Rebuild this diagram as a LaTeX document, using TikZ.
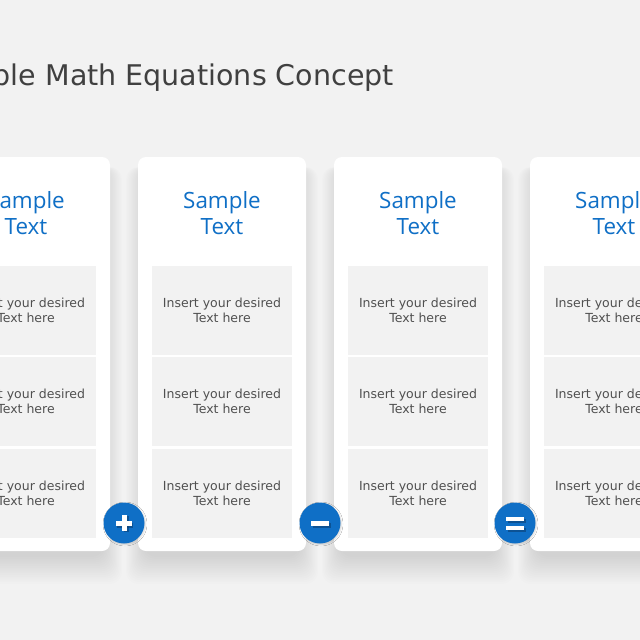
\documentclass[tikz,border=0pt]{standalone}
\usepackage{fontspec}
\setmainfont{DejaVu Sans}
\newfontfamily\headfont{Open Sans}
\usetikzlibrary{shadows.blur}
\definecolor{bg}{HTML}{F2F2F2}
\definecolor{blu}{HTML}{0F6FC6}
\definecolor{blushadow}{HTML}{0A3F73}
\definecolor{txt}{HTML}{505050}
\definecolor{ttl}{HTML}{404040}
\tikzset{
  card/.style={fill=white, rounded corners=8pt, minimum width=168pt, minimum height=394pt, inner sep=0pt},
  cardshadow/.style={fill=black, opacity=0.009, rounded corners=12pt},
  cell/.style={fill=bg, minimum width=140pt, minimum height=89pt, inner sep=0pt, align=center,
    font=\fontsize{12.5}{15}\selectfont, text=txt},
  head/.style={align=center, font=\headfont\fontsize{22.4}{26}\selectfont, text=blu},
  button/.style={circle, fill=blu, minimum size=41pt, inner sep=0pt,
    blur shadow={shadow xshift=1pt, shadow yshift=-1pt, shadow blur radius=1.5pt, shadow opacity=15}},
  bar/.style={line width=5pt, white},
  barshadow/.style={line width=5pt, blushadow, opacity=0.6},
}
\begin{document}
\begin{tikzpicture}[x=1pt,y=1pt]
\useasboundingbox (0,0) rectangle (640,-640);
\fill[bg] (0,0) rectangle (640,-640);
\node[anchor=base east, inner sep=0pt, font=\fontsize{28.5}{32}\selectfont, text=ttl] (title) at (394,-85) {Simple Math Equations Concept};
\foreach \x in {26,222,418,614}{
  \foreach \k in {0,...,15}{
    \fill[cardshadow] ({\x-78-1.2*\k},-167) rectangle ({\x+78+1.2*\k},{-557-1.8*\k});
  }
}
\foreach \i/\x in {1/26,2/222,3/418,4/614}{
  \node[card] (card\i) at (\x,-354) {};
}
\foreach \i/\x in {1/26,2/222,3/418,4/614}{
  \node[head] (head\i) at (\x,-213) {Sample\\Text};
  \node[cell] (cellA\i) at (\x,-310) {Insert your desired\\Text here};
  \node[cell] (cellB\i) at (\x,-401.5) {Insert your desired\\Text here};
  \node[cell] (cellC\i) at (\x,-493.5) {Insert your desired\\Text here};
}
\node[button] (plus) at (124,-523) {};
\node[button] (minus) at (320,-523) {};
\node[button] (equal) at (515,-523) {};
% plus
\draw[barshadow] ([shift={(-7,-2)}]plus.center) -- ([shift={(9,-2)}]plus.center);
\draw[barshadow] ([shift={(2,7)}]plus.center) -- ([shift={(2,-9)}]plus.center);
\draw[bar] ([shift={(-8,0)}]plus.center) -- ([shift={(8,0)}]plus.center);
\draw[bar] ([shift={(0,8)}]plus.center) -- ([shift={(0,-8)}]plus.center);
% minus
\draw[barshadow] ([shift={(-7,-2)}]minus.center) -- ([shift={(11,-2)}]minus.center);
\draw[bar] ([shift={(-9,0)}]minus.center) -- ([shift={(9,0)}]minus.center);
% equal
\draw[barshadow, line width=4pt] ([shift={(-7,2.5)}]equal.center) -- ([shift={(11,2.5)}]equal.center);
\draw[barshadow, line width=4pt] ([shift={(-7,-6.5)}]equal.center) -- ([shift={(11,-6.5)}]equal.center);
\draw[bar, line width=4pt] ([shift={(-9,4.5)}]equal.center) -- ([shift={(9,4.5)}]equal.center);
\draw[bar, line width=4pt] ([shift={(-9,-4.5)}]equal.center) -- ([shift={(9,-4.5)}]equal.center);
\end{tikzpicture}
\end{document}
